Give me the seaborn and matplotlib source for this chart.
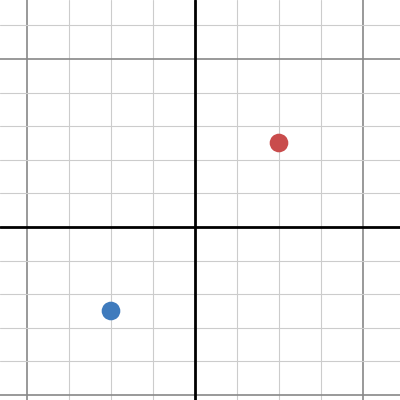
import matplotlib
matplotlib.use("Agg")
import matplotlib.pyplot as plt
import seaborn as sns
import numpy as np

xs = [2, -2]
ys = [2.5, -2.5]
colors = ["#c94c4c", "#3f7bbd"]

sns.set_style("white")
fig = plt.figure(figsize=(4, 4), dpi=100)
ax = fig.add_axes([0, 0, 1, 1])
xmin, xmax = -195/42, 205/42
ymin, ymax = -173/33.6, 227/33.6
for v in np.arange(-4, 5, 1):
    major = (v % 4 == 0)
    if v != 0:
        ax.axvline(v, color="#888" if major else "#ccc", lw=1.2 if major else 0.8, zorder=0)
for v in np.arange(-5, 7, 1):
    major = (v % 5 == 0)
    if v != 0:
        ax.axhline(v, color="#888" if major else "#ccc", lw=1.2 if major else 0.8, zorder=0)
ax.axvline(0, color="black", lw=2, zorder=1)
ax.axhline(0, color="black", lw=2, zorder=1)
sns.scatterplot(x=xs, y=ys, hue=[0, 1], palette=colors, s=180, ax=ax, legend=False, zorder=3, edgecolor="none")
ax.set_xlim(xmin, xmax)
ax.set_ylim(ymin, ymax)
ax.set_xticks([]); ax.set_yticks([])
for s in ax.spines.values():
    s.set_visible(False)
fig.savefig("out.png")
